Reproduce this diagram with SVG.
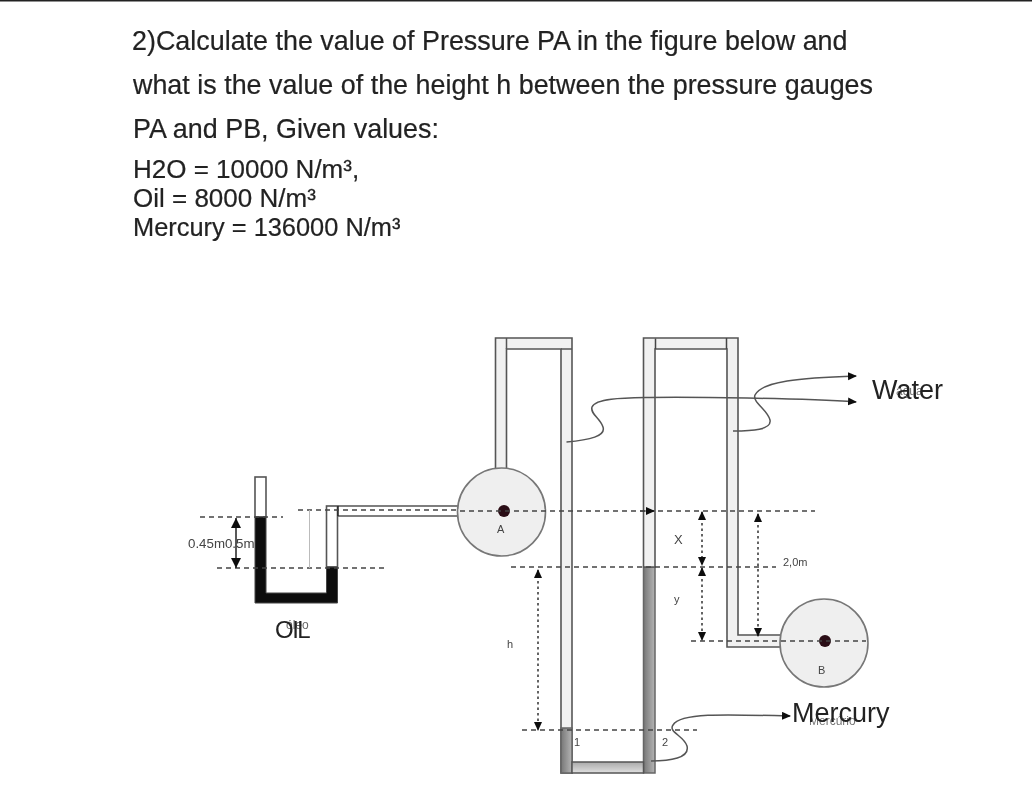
<svg xmlns="http://www.w3.org/2000/svg" width="1032" height="793" viewBox="0 0 1032 793">
<defs>
<style>
text{font-family:"Liberation Sans",Arial,sans-serif;}
.q{font-size:26.9px;fill:#222;stroke:#222;stroke-width:.2;}
.r{font-size:26px;fill:#222;stroke:#222;stroke-width:.2;}
.lg{font-size:27px;fill:#222;}
.s{font-size:11px;fill:#444;}
.under{font-size:12px;fill:#777;}
.tube{fill:#f1f1f1;stroke:#555;stroke-width:1.6;}
.clear{fill:#fff;}
.ink{fill:#111;stroke:#444;stroke-width:1;}
.dash{fill:none;stroke:#444;stroke-width:1.3;stroke-dasharray:5 4;}
.dot{fill:none;stroke:#333;stroke-width:1.5;stroke-dasharray:2.5 3;}
.thin{fill:none;stroke:#555;stroke-width:1.5;}
.round{fill:#efefef;stroke:#777;stroke-width:1.6;}
.soft{filter:url(#soft);}
</style>
<filter id="soft" x="-5%" y="-5%" width="110%" height="110%"><feGaussianBlur stdDeviation="0.35"/></filter>
<linearGradient id="hg" x1="0" x2="1" y1="0" y2="0"><stop offset="0" stop-color="#777"/><stop offset="1" stop-color="#b5b5b5"/></linearGradient>
<linearGradient id="vg" x1="0" x2="0" y1="0" y2="1"><stop offset="0" stop-color="#aaa"/><stop offset="1" stop-color="#e0e0e0"/></linearGradient>
<marker id="ah" markerWidth="10" markerHeight="10" refX="8" refY="4" orient="auto-start-reverse" markerUnits="userSpaceOnUse"><path d="M0 0L9 4L0 8Z" fill="#111"/></marker>
<marker id="big" markerWidth="12" markerHeight="12" refX="10" refY="5" orient="auto-start-reverse" markerUnits="userSpaceOnUse"><path d="M0 0L10 5L0 10Z" fill="#111"/></marker>
</defs>
<rect width="1032" height="793" fill="#fff"/>
<rect x="0" y="0" width="1032" height="1.5" fill="#222"/>
<g id="question" class="soft">
<text class="q" x="132" y="50">2)Calculate the value of Pressure PA in the figure below and</text>
<text class="q" x="133" y="94">what is the value of the height h between the pressure gauges</text>
<text class="q" x="133" y="138">PA and PB, Given values:</text>
<text class="r" x="133" y="178">H2O = 10000 N/m³,</text>
<text class="r" x="133" y="207">Oil = 8000 N/m³</text>
<text class="r" x="133" y="236" style="font-size:25.4px">Mercury = 136000 N/m³</text>
</g>
<g id="oil-manometer" class="soft">
<text x="188" y="548" style="font-size:13.3px;fill:#444">0.45m0.5m</text>
<rect class="tube clear" x="255" y="477" width="11" height="40"/>
<rect class="tube clear" x="326.500" y="506" width="11" height="61"/>
<path class="ink" d="M255 517H266V593H326.500V567H337.500V603H255Z"/>
<path class="tube clear" d="M338 506H458V516H338"/>
<path d="M338 506V516" stroke="#222" stroke-width="1.500"/>
<text x="286" y="629" style="font-size:12px;fill:#666">óleo</text>
<text x="275" y="638" style="font-size:24px;letter-spacing:-1.5px;fill:#222">OIL</text>
</g>
<g id="tank-a" class="soft">
<path class="tube" d="M495.500 470V338H572V773H561V349H506.500V470Z"/>
<path d="M506.500 338V349M561 349H572" stroke="#555" stroke-width="1.500" fill="none"/>
<circle class="round" cx="501.500" cy="512" r="44"/>
<circle cx="504" cy="511" r="6" fill="#2a0a12"/>
<text class="s" x="497" y="533">A</text>
</g>
<g id="mercury-u" class="soft">
<rect x="561" y="728" width="11" height="45" fill="url(#hg)" stroke="#666" stroke-width="1.500"/>
<rect x="643.500" y="567" width="11.500" height="206" fill="url(#hg)" stroke="#666" stroke-width="1.500"/>
<rect x="572" y="762" width="71.500" height="11" fill="url(#vg)" stroke="#555" stroke-width="1.500"/>
<text class="s" x="574" y="746">1</text>
<text class="s" x="662" y="746">2</text>
</g>
<g id="tube-middle" class="soft">
<path class="tube" d="M643.500 567V338H738V635H781V647H727V349H655V567Z"/>
<path d="M655.500 338.500V349M726.500 338V349" stroke="#444" stroke-width="1.500" fill="none"/>
</g>
<g id="tank-b" class="soft">
<circle class="round" cx="824" cy="643" r="44"/>
<circle cx="825" cy="641" r="6" fill="#2a0a12"/>
<text class="s" x="818" y="674">B</text>
</g>
<g id="connectors" class="soft">
<path class="dash" d="M200 517H283"/>
<path class="dash" d="M217 568H386"/>
<path class="dash" d="M298 510H458"/>
<path class="dash" d="M460 511H815"/>
<path class="dash" d="M511 567H776"/>
<path class="dash" d="M522 730H697"/>
<path class="dash" d="M691 641H866"/>
<path d="M309.500 510V568" fill="none" stroke="#bbb" stroke-width="1"/>
<path d="M236 518V568" fill="none" stroke="#222" stroke-width="1.500" marker-start="url(#big)" marker-end="url(#big)"/>
<path class="dot" d="M702 512V565" marker-start="url(#ah)" marker-end="url(#ah)"/>
<path class="dot" d="M702 568V640" marker-start="url(#ah)" marker-end="url(#ah)"/>
<path class="dot" d="M758 514V636" marker-start="url(#ah)" marker-end="url(#ah)"/>
<path class="dot" d="M538 570V730" marker-start="url(#ah)" marker-end="url(#ah)"/>
<path d="M640 511H654" stroke="#333" marker-end="url(#ah)"/>
<path class="thin" d="M566.500 442C590 440 606 436 603 427C600 418 590 414 592 407C596 398 625 398 650 397.500C690 397 800 398 856 402" marker-end="url(#ah)"/>
<path class="thin" d="M733 431C752 431 772 430 770 420C768 410 752 402 755 395C762 381 800 378 856 376" marker-end="url(#ah)"/>
<path class="thin" d="M651 761C670 761 690 758 687 746C684 736 668 732 673 725C680 713 720 714 790 716" marker-end="url(#ah)"/>
</g>
<g id="labels" class="soft">
<text class="s" x="674" y="544" style="font-size:13px">X</text>
<text class="s" x="674" y="603">y</text>
<text class="s" x="507" y="648">h</text>
<text class="s" x="783" y="566">2,0m</text>
<text x="896" y="395" style="font-size:12px;fill:#777">água</text>
<text class="lg" x="872" y="399">Water</text>
<text x="809" y="725" style="font-size:12px;fill:#777">Mercúrio</text>
<text class="lg" x="792" y="722">Mercury</text>
</g>
</svg>
